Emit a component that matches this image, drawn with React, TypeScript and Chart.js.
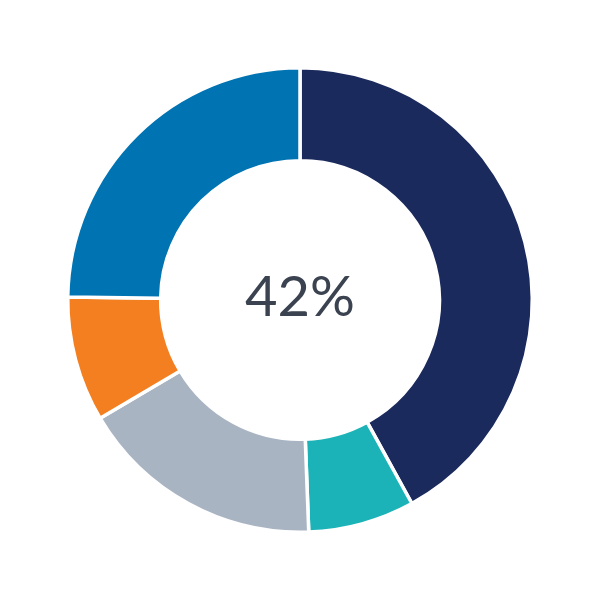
import React, { useEffect, useRef } from 'react';
import { Chart, registerables } from 'chart.js';

Chart.register(...registerables);

const labels = ['Segment A', 'Segment B', 'Segment C', 'Segment D', 'Segment E'];
const values = [42, 7.4, 17.1, 8.7, 24.8];
const colors = ['#1b2a5c', '#1bb3b7', '#a9b4c3', '#f37f21', '#0073b2'];
const centerLabel = '42%';

const centerText = {
  id: 'centerText',
  afterDraw(chart: Chart) {
    const meta = chart.getDatasetMeta(0);
    const arc = meta.data[0] as any;
    if (!arc) return;
    const ctx = chart.ctx;
    ctx.save();
    ctx.font = '400 56px Lato, "Open Sans", sans-serif';
    ctx.fillStyle = '#3b4250';
    ctx.textAlign = 'center';
    ctx.textBaseline = 'middle';
    ctx.fillText(centerLabel, arc.x, arc.y - 2);
    ctx.restore();
  },
};

export default function App() {
  const canvasRef = useRef<HTMLCanvasElement>(null);
  const chartRef = useRef<Chart | null>(null);

  useEffect(() => {
    document.body.style.margin = '0';
    if (!canvasRef.current) return;
    const ctx = canvasRef.current.getContext('2d');
    if (!ctx) return;
    if (chartRef.current) chartRef.current.destroy();

    chartRef.current = new Chart(ctx, {
      type: 'doughnut',
      data: {
        labels,
        datasets: [
          {
            data: values,
            backgroundColor: colors,
            borderColor: '#ffffff',
            borderWidth: 3.5,
          },
        ],
      },
      options: {
        animation: false,
        responsive: false,
        cutout: '60%',
        layout: { padding: 66 },
        plugins: {
          legend: { display: false },
          tooltip: { enabled: false },
        },
      },
      plugins: [centerText],
    });

    return () => chartRef.current?.destroy();
  }, []);

  return (
    <div style={{ width: 600, height: 600, background: '#fff' }}>
      <canvas ref={canvasRef} width={600} height={600} style={{ width: 600, height: 600 }}></canvas>
    </div>
  );
}
